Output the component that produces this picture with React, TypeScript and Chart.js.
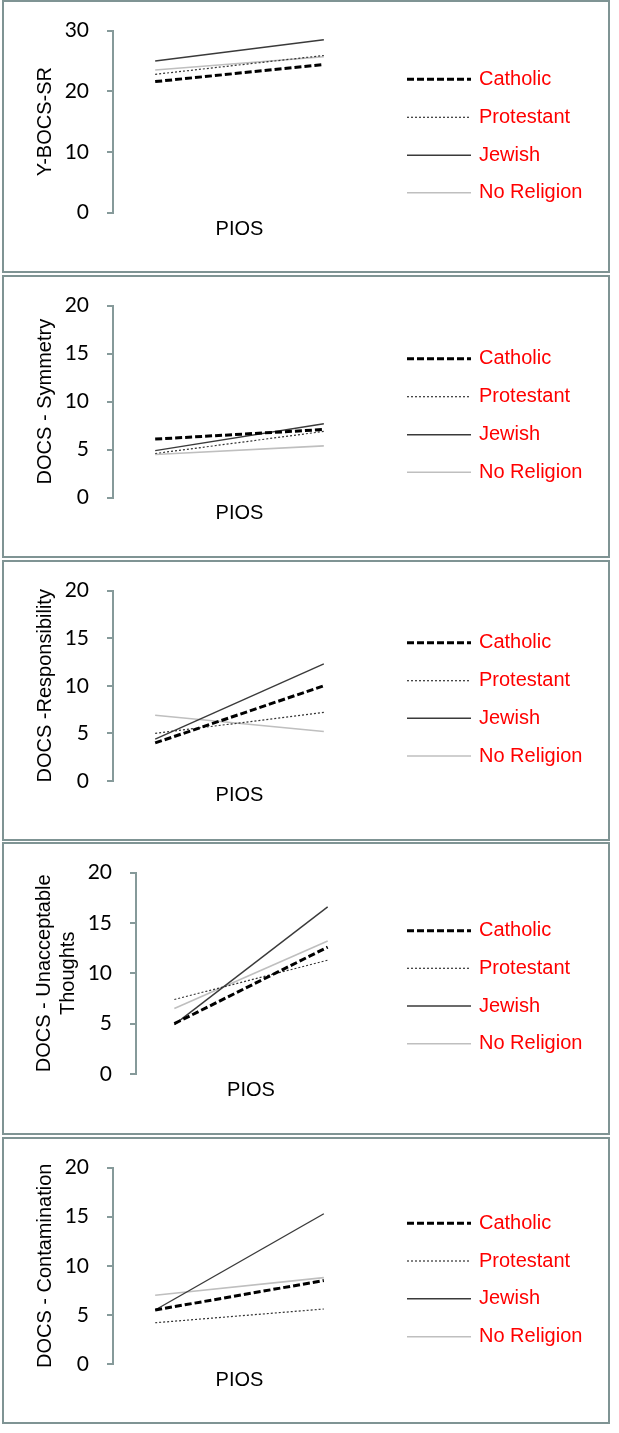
import { useEffect, useRef } from 'react';
import { Chart, registerables } from 'chart.js';

Chart.register(...registerables);

const religions = ['Catholic', 'Protestant', 'Jewish', 'No Religion'];
const piosLevels = [1, 2]; // low PIOS, high PIOS

// [low, high] for each religion, in the order of `religions`
const ybocsValues = [[21.6, 24.4], [22.8, 25.9], [25.0, 28.5], [23.5, 25.7]];
const symmetryValues = [[6.1, 7.1], [4.6, 6.9], [4.9, 7.7], [4.5, 5.4]];
const responsibilityValues = [[4.0, 10.0], [5.0, 7.2], [4.4, 12.3], [6.9, 5.2]];
const unacceptableValues = [[5.0, 12.6], [7.4, 11.3], [4.9, 16.6], [6.5, 13.2]];
const contaminationValues = [[5.5, 8.5], [4.2, 5.6], [5.5, 15.3], [7.0, 8.8]];

const ybocsTicks = [0, 10, 20, 30];
const docsTicks = [0, 5, 10, 15, 20];

const seriesStyles = [
  { color: '#000000', width: 3, dash: [7, 3] },
  { color: '#333333', width: 1.2, dash: [2, 2] },
  { color: '#3a3a3a', width: 1.4, dash: [] as number[] },
  { color: '#bfbfbf', width: 1.6, dash: [] as number[] },
];

const AXIS_COLOR = '#869a9a';
const FRAME_COLOR = '#7f9494';
const TEXT_FONT = '"Liberation Sans", Arial, sans-serif';

interface Panel {
  title: string[];
  values: number[][];
  ticks: number[];
  top: number;
  height: number;
  axisX: number;
  yTop: number;
  yBottom: number;
  titleX: number;
  piosY: number;
  legendY: number[];
}

const panels: Panel[] = [
  { title: ['Y-BOCS-SR'], values: ybocsValues, ticks: ybocsTicks, top: 0, height: 273, axisX: 113, yTop: 27.3, yBottom: 212.7, titleX: 45, piosY: 229.7, legendY: [79.3, 117.3, 155.3, 192.7] },
  { title: ['DOCS - Symmetry'], values: symmetryValues, ticks: docsTicks, top: 275, height: 283, axisX: 113, yTop: 302.3, yBottom: 497.7, titleX: 45, piosY: 513.3, legendY: [358.7, 396.7, 434.7, 472.3] },
  { title: ['DOCS -Responsibility'], values: responsibilityValues, ticks: docsTicks, top: 560, height: 281, axisX: 113, yTop: 587.7, yBottom: 781, titleX: 45, piosY: 795.7, legendY: [642.7, 680.7, 718.3, 756] },
  { title: ['DOCS - Unacceptable', 'Thoughts'], values: unacceptableValues, ticks: docsTicks, top: 842, height: 293, axisX: 136, yTop: 869.7, yBottom: 1074, titleX: 44, piosY: 1090.3, legendY: [930.7, 968.3, 1006, 1043.7] },
  { title: ['DOCS - Contamination'], values: contaminationValues, ticks: docsTicks, top: 1137, height: 287, axisX: 113, yTop: 1164.3, yBottom: 1364, titleX: 45, piosY: 1380, legendY: [1223.3, 1261, 1298.7, 1336.7] },
];

const WIDTH = 619;
const PLOT_RIGHT = 366;

function PanelChart({ panel }: { panel: Panel }) {
  const canvasRef = useRef<HTMLCanvasElement>(null);

  useEffect(() => {
    const canvas = canvasRef.current;
    if (!canvas) return;

    const plotTop = panel.yTop - panel.top;
    const plotBottom = panel.yBottom - panel.top;
    const titlePad = panel.piosY - panel.yBottom - 12;
    const xAxisHeight = titlePad + 24;
    const padLeft = panel.titleX - 12;

    const sideLegend = {
      id: 'sideLegend',
      afterDraw(chart: Chart) {
        const ctx = chart.ctx;
        chart.data.datasets.forEach((ds: any, i: number) => {
          const y = panel.legendY[i] - panel.top;
          ctx.save();
          ctx.strokeStyle = ds.borderColor;
          ctx.lineWidth = ds.borderWidth;
          ctx.setLineDash(ds.borderDash || []);
          ctx.beginPath();
          ctx.moveTo(407, y);
          ctx.lineTo(471, y);
          ctx.stroke();
          ctx.setLineDash([]);
          ctx.fillStyle = '#ff0000';
          ctx.font = `20px ${TEXT_FONT}`;
          ctx.textBaseline = 'middle';
          ctx.textAlign = 'left';
          ctx.fillText(ds.label, 479, y);
          ctx.restore();
        });
      },
    };

    const chart = new Chart(canvas, {
      type: 'line',
      data: {
        datasets: religions.map((name, i) => ({
          label: name,
          data: piosLevels.map((x, j) => ({ x, y: panel.values[i][j] })),
          borderColor: seriesStyles[i].color,
          borderWidth: seriesStyles[i].width,
          borderDash: seriesStyles[i].dash,
          pointRadius: 0,
          fill: false,
          tension: 0,
        })),
      },
      options: {
        responsive: false,
        animation: false,
        layout: {
          padding: {
            left: padLeft,
            top: plotTop,
            right: WIDTH - PLOT_RIGHT,
            bottom: panel.height - plotBottom - xAxisHeight,
          },
        },
        plugins: {
          legend: { display: false },
          tooltip: { enabled: false },
        },
        scales: {
          x: {
            type: 'linear',
            min: 0.75,
            max: 2.25,
            ticks: { display: false },
            grid: { display: false },
            border: { display: false },
            title: {
              display: true,
              text: 'PIOS',
              color: '#000',
              font: { family: TEXT_FONT, size: 20 },
              padding: { top: titlePad, bottom: 0 },
            },
            afterFit: (scale: any) => {
              scale.height = xAxisHeight;
            },
          },
          y: {
            min: panel.ticks[0],
            max: panel.ticks[panel.ticks.length - 1],
            ticks: {
              stepSize: panel.ticks[1] - panel.ticks[0],
              color: '#000',
              font: { family: 'Lato', size: 21 },
              padding: 18,
            },
            grid: {
              drawOnChartArea: false,
              drawTicks: true,
              tickLength: 6,
              color: AXIS_COLOR,
              lineWidth: 2,
            },
            border: { display: true, color: AXIS_COLOR, width: 2 },
            title: {
              display: true,
              text: panel.title,
              color: '#000',
              font: { family: TEXT_FONT, size: 20 },
              padding: 0,
            },
            afterFit: (scale: any) => {
              scale.width = panel.axisX - padLeft;
            },
          },
        },
      },
      plugins: [sideLegend],
    });

    return () => {
      chart.destroy();
    };
  }, [panel]);

  return (
    <div style={{ position: 'absolute', left: 0, top: panel.top, width: WIDTH, height: panel.height }}>
      <canvas
        ref={canvasRef}
        width={WIDTH}
        height={panel.height}
        style={{ position: 'absolute', left: 0, top: 0, width: WIDTH, height: panel.height }}
      />
      <div
        style={{
          position: 'absolute',
          left: 2,
          top: 0,
          width: 608,
          height: panel.height,
          boxSizing: 'border-box',
          border: `2px solid ${FRAME_COLOR}`,
          pointerEvents: 'none',
        }}
      />
    </div>
  );
}

export default function App() {
  return (
    <div style={{ position: 'absolute', left: 0, top: 0, width: WIDTH, height: 1433, background: '#ffffff' }}>
      {panels.map((p) => (
        <PanelChart key={p.title.join(' ')} panel={p} />
      ))}
    </div>
  );
}
